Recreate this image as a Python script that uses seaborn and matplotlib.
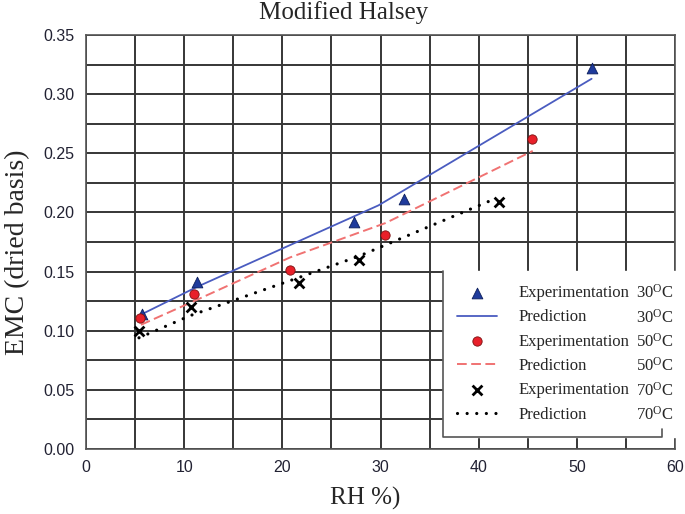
import matplotlib
matplotlib.use("Agg")
import matplotlib.pyplot as plt
from matplotlib.lines import Line2D
from matplotlib.ticker import MultipleLocator
import seaborn as sns

# values
exp30_rh = [5.7, 11.3, 27.3, 32.4, 51.5]
exp30 = [0.114, 0.141, 0.192, 0.211, 0.322]
pred30_rh = [5.7, 11.3, 29.8, 51.5]
pred30 = [0.114, 0.137, 0.206, 0.313]

exp50_rh = [5.5, 11.0, 20.8, 30.5, 45.4]
exp50 = [0.111, 0.131, 0.151, 0.181, 0.262]
pred50_rh = [5.6, 11.0, 20.8, 30.5, 45.5]
pred50 = [0.105, 0.125, 0.162, 0.191, 0.252]

exp70_rh = [5.4, 10.7, 21.7, 27.8, 42.1]
exp70 = [0.100, 0.120, 0.140, 0.160, 0.209]
pred70_rh = [5.4, 10.7, 21.7, 27.8, 41.5]
pred70 = [0.094, 0.113, 0.145, 0.163, 0.211]

temps = ["30", "30", "50", "50", "70", "70"]

sns.set_style("white")
plt.rcParams["font.family"] = ["Liberation Serif", "DejaVu Serif"]
plt.rcParams["mathtext.fontset"] = "custom"
plt.rcParams["mathtext.rm"] = "Liberation Serif"
plt.rcParams["mathtext.it"] = "Liberation Serif:italic"

fig = plt.figure(figsize=(6.85, 5.14), dpi=100)
ax = fig.add_axes([0.1255, 0.1265, 0.86, 0.8054])

grid_col = "#363636"

# 30 C
sns.scatterplot(x=exp30_rh, y=exp30, marker="^", s=60, color="#1f3b9c",
                edgecolor="#0d1f5c", linewidth=0.6, ax=ax,
                label="Experimentation", zorder=4)
sns.lineplot(x=pred30_rh, y=pred30, color="#4a5cc0", lw=1.3, ax=ax,
             sort=False, estimator=None, label="Prediction", zorder=3)
# 50 C
sns.scatterplot(x=exp50_rh, y=exp50, marker="o", s=45, color="#e8202a",
                edgecolor="#7a1010", linewidth=0.6, ax=ax,
                label="Experimentation", zorder=4)
sns.lineplot(x=pred50_rh, y=pred50, color="#f07272", lw=1.4, ax=ax,
             sort=False, estimator=None, label="Prediction",
             linestyle=(0, (5, 2.3)), zorder=3)
# 70 C
sns.scatterplot(x=exp70_rh, y=exp70, marker="x", s=50, color="black",
                linewidth=2.0, ax=ax, label="Experimentation", zorder=4)
sns.lineplot(x=pred70_rh, y=pred70, color="black", lw=2.3, ax=ax,
             sort=False, estimator=None, label="Prediction",
             linestyle=(0, (0.01, 3.0)), dash_capstyle="round", zorder=3)

ax.set_xlim(0, 60)
ax.set_ylim(0, 0.35)
ax.xaxis.set_major_locator(MultipleLocator(10))
ax.xaxis.set_minor_locator(MultipleLocator(5))
ax.yaxis.set_major_locator(MultipleLocator(0.05))
ax.yaxis.set_minor_locator(MultipleLocator(0.025))
ax.yaxis.set_major_formatter(matplotlib.ticker.FormatStrFormatter("%.2f"))
ax.set_axisbelow(True)
ax.grid(which="both", color=grid_col, lw=1.4)

ax.tick_params(which="major", direction="out", length=5, width=1.2,
               color="#555555", labelsize=11.5, labelcolor="#222233", pad=3)
ax.tick_params(which="minor", length=0)
for lab in ax.get_xticklabels() + ax.get_yticklabels():
    lab.set_family("Liberation Sans")
for sp in ax.spines.values():
    sp.set_color("#555555")
    sp.set_linewidth(1.2)

ax.set_xlabel("RH %)", fontsize=18)
ax.xaxis.set_label_coords(0.474, -0.092)
ax.set_ylabel("EMC (dried basis)", fontsize=20)
ax.yaxis.set_label_coords(-0.095, 0.476)

fig.text(0.502, 0.975, "Modified Halsey", ha="center", va="center", fontsize=18)

leg = ax.legend(loc="lower left", bbox_to_anchor=(0.606, 0.029, 0.41, 0.40),
                mode="expand", fontsize=12, frameon=True, fancybox=False,
                facecolor="white", edgecolor="white", framealpha=1,
                borderpad=0.85, labelspacing=0.5, handlelength=2.4,
                handletextpad=1.3, borderaxespad=0)
leg.set_zorder(10)

fig.canvas.draw()
renderer = fig.canvas.get_renderer()
inv = ax.transAxes.inverted()
for txt, t in zip(leg.get_texts(), temps):
    bb = txt.get_window_extent(renderer)
    yc = inv.transform((0, (bb.y0 + bb.y1) / 2))[1]
    ax.text(0.998, yc, t + r"$^{\mathrm{O}}$C", transform=ax.transAxes,
            ha="right", va="center", fontsize=12, zorder=11)

fb = leg.get_frame().get_window_extent(renderer)
(x0, y0) = inv.transform((fb.x0, fb.y0))
(x1, y1) = inv.transform((fb.x1, fb.y1))
xr = inv.transform((662 * fig.dpi / 100, 0))[0]
ax.add_line(Line2D([x0, x0, xr, xr], [y1, y0, y0, y0 + 0.02],
                   transform=ax.transAxes, color="#555555", lw=1.2,
                   clip_on=False, zorder=11))

fig.savefig("out.png", dpi=100)
